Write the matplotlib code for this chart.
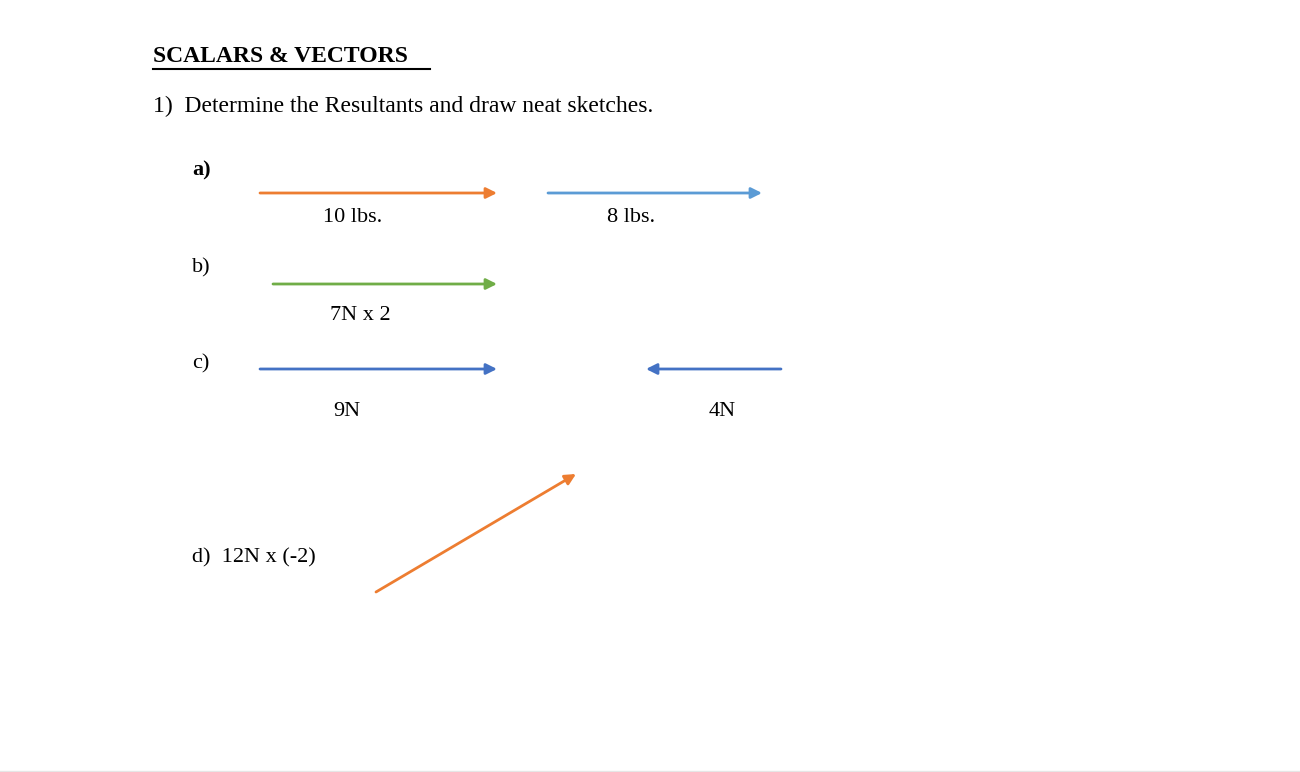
import matplotlib.pyplot as plt

plt.rcParams['font.family'] = ['Liberation Serif', 'DejaVu Serif']

# arrows: (x0, y0, x1, y1, colour) in page pixels
arrow_starts = [(260, 193), (548, 193), (273, 284), (260, 369), (781, 369), (376, 592)]
arrow_ends = [(497, 193), (762, 193), (497, 284), (497, 369), (646, 369), (576, 474)]
arrow_colors = ['#ED7D31', '#5B9BD5', '#70AD47', '#4472C4', '#4472C4', '#ED7D31']

# labels under the arrows
label_texts = ['10 lbs.', '8 lbs.', '7N x 2', '9N', '4N']
label_pos = [(353, 218), (631, 218), (360, 315), (347, 412), (722, 412)]

# part markers
part_texts = ['a)', 'b)', 'c)', 'd)  12N x (-2)']
part_pos = [(192, 170), (192, 268), (192, 364), (192, 558)]
part_bold = [True, False, False, False]

fig = plt.figure(figsize=(13, 7.72), dpi=100)
ax = fig.add_axes([0, 0, 1, 1])
ax.set_xlim(0, 1300)
ax.set_ylim(772, 0)
ax.axis('off')

ax.text(153, 57, 'SCALARS & VECTORS', fontsize=17, fontweight='bold', va='center')
ax.plot([153, 430], [69, 69], color='black', lw=1.5)
ax.text(153, 106, '1)  Determine the Resultants and draw neat sketches.', fontsize=17, va='center')

for (x0, y0), (x1, y1), c in zip(arrow_starts, arrow_ends, arrow_colors):
    ax.annotate('', xy=(x1, y1), xytext=(x0, y0),
                arrowprops=dict(arrowstyle='-|>', color=c, lw=2, mutation_scale=16,
                                shrinkA=0, shrinkB=0))

for t, (x, y) in zip(label_texts, label_pos):
    ax.text(x, y, t, fontsize=16, ha='center', va='center')

for t, (x, y), b in zip(part_texts, part_pos, part_bold):
    ax.text(x, y, t, fontsize=16, va='center', fontweight='bold' if b else 'normal')

ax.plot([0, 1300], [771, 771], color='#e6e6e6', lw=1)

fig.savefig('out.png', dpi=100)
